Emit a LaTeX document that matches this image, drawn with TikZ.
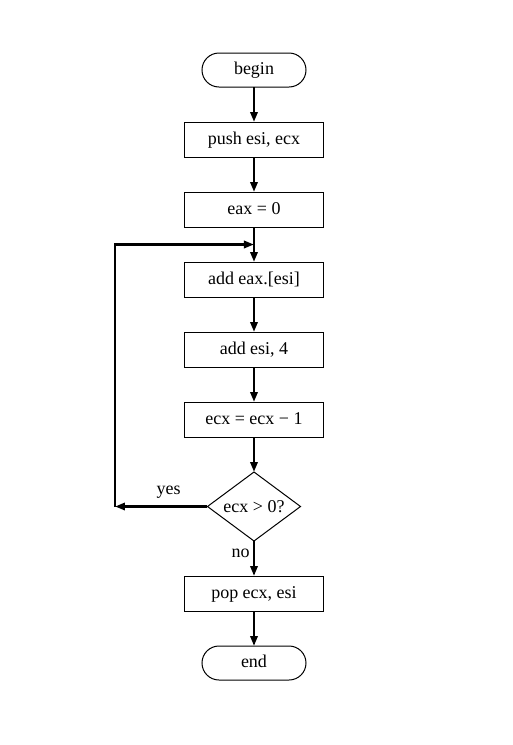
\documentclass[tikz,border=0pt]{standalone}
\usepackage{fontspec}
\setmainfont{Liberation Serif}
\usepackage{tikz}
\usetikzlibrary{
  calc,
  positioning,
  arrows.meta,
  shapes.geometric
}

\begin{document}
\begin{tikzpicture}[
      node distance=17.5pt,
      font=\fontsize{9}{10}\selectfont,
      term/.style={draw, rounded corners=8.5pt, inner sep=0pt, outer sep=0pt, text height=6.5pt, text depth=2pt, minimum height=17pt, minimum width=52pt, line width=0.5pt},
      proc/.style={draw, inner sep=0pt, outer sep=0pt, text height=6.5pt, text depth=2pt, minimum height=17.5pt, minimum width=69.5pt, line width=0.5pt},
      test/.style={draw, diamond, aspect=1.35, inner sep=0pt, outer sep=0pt, minimum width=46.5pt, minimum height=34.5pt, line width=0.5pt},
      arr/.style={-{Triangle[length=5pt, width=3.6pt]}, line width=1.4pt}
    ]
    \useasboundingbox (-127pt,35pt) rectangle (129.5pt,-337.5pt);
    \node[term] (begin) {begin};
    \node[proc, below=of begin] (push) {push esi, ecx};
    \node[proc, below=of push] (init) {eax = 0};
    \node[proc, below=of init] (accum) {add eax.[esi]};
    \node[proc, below=of accum] (advance) {add esi, 4};
    \node[proc, below=of advance] (decr) {ecx = ecx − 1};
    \node[test, below=of decr] (cond) {ecx > 0?};
    \node[proc, below=of cond] (pop) {pop ecx, esi};
    \node[term, below=of pop] (end) {end};
    \coordinate (merge) at ($(init.south)!0.5!(accum.north)$);
    \coordinate (corner) at ($(cond.center)+(-69.5pt,0)$);
    \draw[arr] (begin) -- (push);
    \draw[arr] (push) -- (init);
    \draw[arr] (init) -- (accum);
    \draw[arr] (accum) -- (advance);
    \draw[arr] (advance) -- (decr);
    \draw[arr] (decr) -- (cond);
    \draw[arr] (cond) -- node[left, pos=0.35, inner sep=1.5pt]{no} (pop);
    \draw[arr] (pop) -- (end);
    \draw[arr] (cond.west) -- node[above, pos=0.42]{yes} (corner);
    \draw[arr] (corner) |- (merge);
  \end{tikzpicture}
\end{document}
